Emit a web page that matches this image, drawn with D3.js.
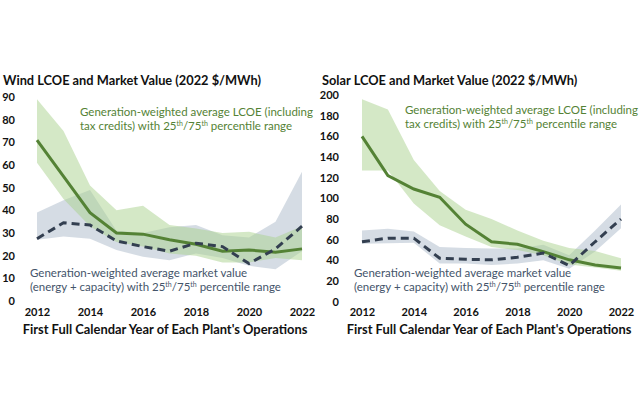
<!DOCTYPE html>
<html>
<head>
<meta charset="utf-8">
<script src="https://cdn.jsdelivr.net/npm/d3@7"></script>
<style>
  body { margin: 0; background: #fff; }
  svg { display: block; font-family: Lato, "Open Sans", sans-serif; }
</style>
</head>
<body>
<svg id="chart" width="640" height="409"></svg>
<script>
// Years on the x axis
const years = [2012, 2013, 2014, 2015, 2016, 2017, 2018, 2019, 2020, 2021, 2022];
const yearTicks = [2012, 2014, 2016, 2018, 2020, 2022];

// Wind (2022 $/MWh)
const windLcoe   = [71, 55, 39, 30, 29.5, 27, 25, 22, 22.5, 21.5, 23];
const windLcoeLo = [61, 45, 33, 26, 24, 21, 20, 17, 17, 19, 18];
const windLcoeHi = [89, 75, 51, 40, 42, 33.5, 32, 30, 30.5, 28, 33];
const windMv     = [27.5, 34.5, 33.5, 26.5, 24, 22, 25.5, 24, 16.5, 23, 33];
const windMvLo   = [27, 28.5, 27.5, 22.5, 19.5, 18, 21, 19, 15.5, 14, 22];
const windMvHi   = [39, 44.5, 49, 31, 30, 32.5, 33.5, 29, 28, 35, 57];

// Solar (2022 $/MWh)
const solarLcoe   = [160, 122, 109, 101, 75, 58, 55.5, 48.5, 40.5, 35.5, 32.5];
const solarLcoeLo = [127, 127, 95, 74, 63, 53, 50, 45, 36, 33, 30];
const solarLcoeHi = [196, 186, 137, 107, 89, 80, 69, 59, 52, 49, 42];
const solarMv     = [58, 61.5, 61.5, 42, 41, 40.5, 43, 47, 35, 58, 80];
const solarMvLo   = [56, 56.5, 57, 37, 37, 35.5, 37, 40, 32, 48.5, 71];
const solarMvHi   = [69, 70.5, 68, 53, 52, 51.5, 51.5, 55, 45, 69, 94];

const lcoeLabel = ['Generation-weighted average LCOE (including', 'tax credits) with 25|th|/75|th| percentile range'];
const mvLabel = ['Generation-weighted average market value', '(energy + capacity) with 25|th|/75|th| percentile range'];
const xTitle = "First Full Calendar Year of Each Plant's Operations";

const svg = d3.select('#chart');

function drawPanel(p) {
  const g = svg.append('g');

  const x = d3.scaleLinear().domain([2012, 2022]).range(p.xRange);
  const y = d3.scaleLinear().domain([0, p.yMax]).range(p.yRange);

  const area = (lo, hi) => d3.area()
    .x((d, i) => x(years[i]))
    .y0((d, i) => y(lo[i]))
    .y1((d, i) => y(hi[i]))(years);
  const line = vals => d3.line()
    .x((d, i) => x(years[i]))
    .y((d, i) => y(vals[i]))(years);

  // Title
  g.append('text')
    .attr('x', p.titleX)
    .attr('y', 85)
    .attr('font-size', '12.8px')
    .attr('font-weight', 'bold')
    .attr('fill', '#111')
    .text(p.title);

  // Y axis
  const yAxis = g.append('g')
    .attr('transform', `translate(${p.yAxisX},0)`)
    .call(d3.axisLeft(y).ticks(p.yMax / p.yStep).tickSize(0).tickPadding(0));
  yAxis.select('.domain').remove();
  yAxis.selectAll('text')
    .attr('font-family', 'Lato, sans-serif')
    .attr('font-size', '11px')
    .attr('font-weight', 'bold')
    .attr('fill', '#111');

  // X axis
  const xAxis = g.append('g')
    .attr('transform', `translate(0,${p.xAxisY})`)
    .call(d3.axisBottom(x).tickValues(yearTicks).tickFormat(d3.format('d')).tickSize(0).tickPadding(0));
  xAxis.select('.domain').remove();
  xAxis.selectAll('text')
    .attr('font-family', 'Lato, sans-serif')
    .attr('font-size', '11px')
    .attr('font-weight', 'bold')
    .attr('fill', '#111');

  // X axis title
  g.append('text')
    .attr('x', p.xTitleX)
    .attr('y', 334)
    .attr('text-anchor', 'middle')
    .attr('font-size', '12.9px')
    .attr('font-weight', 'bold')
    .attr('fill', '#111')
    .text(xTitle);

  // Bands
  g.append('path')
    .attr('d', area(p.mvLo, p.mvHi))
    .attr('fill', '#acb9ca')
    .attr('opacity', 0.5);
  g.append('path')
    .attr('d', area(p.lcoeLo, p.lcoeHi))
    .attr('fill', '#a9d18e')
    .attr('opacity', 0.5);

  // Lines
  g.append('path')
    .attr('d', line(p.lcoe))
    .attr('fill', 'none')
    .attr('stroke', '#548235')
    .attr('stroke-width', 3);
  g.append('path')
    .attr('d', line(p.mv))
    .attr('fill', 'none')
    .attr('stroke', '#333f50')
    .attr('stroke-width', 3)
    .attr('stroke-dasharray', '8,5');

  // Annotation labels, "th" drawn as superscript
  function label(lines, lx, ly, color) {
    lines.forEach((s, i) => {
      const t = g.append('text')
        .attr('x', lx)
        .attr('y', ly + i * 14)
        .attr('font-size', '11.5px')
        .attr('fill', color);
      let raised = false;
      s.split('|').forEach(part => {
        const span = t.append('tspan').text(part);
        if (part === 'th') {
          span.attr('font-size', '7px').attr('dy', -4);
          raised = true;
        } else if (raised) {
          span.attr('dy', 4);
          raised = false;
        }
      });
    });
  }
  label(lcoeLabel, p.lcoeLabelX, p.lcoeLabelY, '#548235');
  label(mvLabel, p.mvLabelX, p.mvLabelY, '#44546a');
}

drawPanel({
  title: 'Wind LCOE and Market Value (2022 $/MWh)',
  titleX: 3,
  xRange: [37, 302], yRange: [301, 97], yMax: 90, yStep: 10,
  yAxisX: 15, xAxisY: 308, xTitleX: 165,
  lcoe: windLcoe, lcoeLo: windLcoeLo, lcoeHi: windLcoeHi,
  mv: windMv, mvLo: windMvLo, mvHi: windMvHi,
  lcoeLabelX: 80, lcoeLabelY: 116,
  mvLabelX: 30, mvLabelY: 277
});

drawPanel({
  title: 'Solar LCOE and Market Value (2022 $/MWh)',
  titleX: 322,
  xRange: [362, 621], yRange: [301.7, 95], yMax: 200, yStep: 20,
  yAxisX: 339, xAxisY: 308, xTitleX: 489,
  lcoe: solarLcoe, lcoeLo: solarLcoeLo, lcoeHi: solarLcoeHi,
  mv: solarMv, mvLo: solarMvLo, mvHi: solarMvHi,
  lcoeLabelX: 405, lcoeLabelY: 114,
  mvLabelX: 354, mvLabelY: 277
});
</script>
</body>
</html>
